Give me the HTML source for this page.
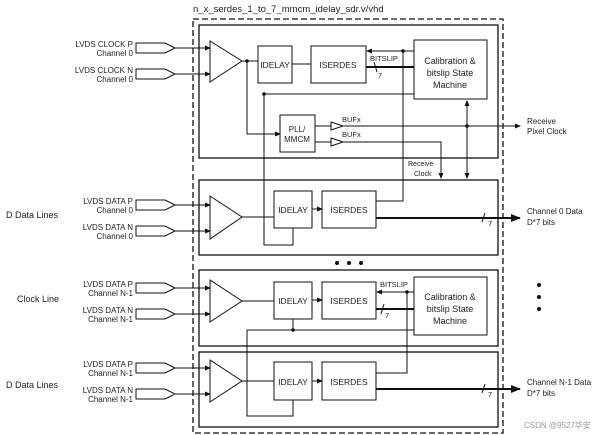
<!DOCTYPE html>
<html><head><meta charset="utf-8"><style>body{margin:0;background:#fff}svg{display:block}text{font-family:"Liberation Sans",Arial,sans-serif;fill:#222}</style></head><body>
<svg width="600" height="435" viewBox="0 0 600 435" xmlns="http://www.w3.org/2000/svg">
<defs>
<marker id="a" markerWidth="6" markerHeight="6" refX="5" refY="3" orient="auto" markerUnits="userSpaceOnUse"><path d="M0,0.5 L6,3 L0,5.5z" fill="#111"/></marker>
<marker id="b" markerWidth="10" markerHeight="8" refX="9" refY="4" orient="auto" markerUnits="userSpaceOnUse"><path d="M0,0 L10,4 L0,8z" fill="#111"/></marker>
</defs>
<g stroke="#111" fill="none" stroke-width="1">
<text x="193" y="12" font-size="9.5" stroke="none">n_x_serdes_1_to_7_mmcm_idelay_sdr.v/vhd</text>
<rect x="193" y="19" width="310" height="414" stroke-dasharray="6,3" stroke-width="1.3"/>
<rect x="199" y="25" width="299" height="133" stroke-width="1.3"/>
<rect x="199" y="180" width="299" height="75" stroke-width="1.3"/>
<rect x="199" y="270" width="299" height="76" stroke-width="1.3"/>
<rect x="199" y="352" width="299" height="75" stroke-width="1.3"/>

<!-- pads -->
<path d="M136,43h29l10,5l-10,5h-29z M136,69h29l10,5l-10,5h-29z M136,200h29l10,5l-10,5h-29z M136,226h29l10,5l-10,5h-29z M136,283h29l10,5l-10,5h-29z M136,309h29l10,5l-10,5h-29z M136,363h29l10,5l-10,5h-29z M136,389h29l10,5l-10,5h-29z"/>
<g marker-end="url(#a)">
<line x1="175" y1="48" x2="210" y2="48"/><line x1="175" y1="74" x2="210" y2="74"/>
<line x1="175" y1="205" x2="210" y2="205"/><line x1="175" y1="231" x2="210" y2="231"/>
<line x1="175" y1="288" x2="210" y2="288"/><line x1="175" y1="314" x2="210" y2="314"/>
<line x1="175" y1="368" x2="210" y2="368"/><line x1="175" y1="394" x2="210" y2="394"/>
</g>
<!-- triangles -->
<path d="M210,41L242,61L210,82z M210,196L242,217L210,239z M210,280L242,301L210,322z M210,360L242,381L210,402z"/>
<!-- block1 -->
<rect x="258" y="46" width="34" height="37"/>
<rect x="311" y="46" width="55" height="37"/>
<rect x="414" y="40" width="73" height="59"/>
<rect x="280" y="115" width="35" height="37"/>
<path d="M331,122l12,4l-12,4z M331,138l12,4l-12,4z"/>
<line x1="242" y1="61" x2="258" y2="61"/>
<line x1="292" y1="64" x2="311" y2="64"/>
<line x1="366" y1="67" x2="414" y2="67" stroke-width="2"/>
<line x1="377" y1="72" x2="374" y2="62"/>
<line x1="414" y1="51" x2="367" y2="51" marker-end="url(#a)"/>
<path d="M247,61V134H280" marker-end="url(#a)"/>
<line x1="264" y1="94" x2="414" y2="94"/>
<path d="M264,94V245H293V228"/>
<path d="M403,51V201H376"/>
<line x1="315" y1="126" x2="331" y2="126"/>
<line x1="315" y1="142" x2="331" y2="142"/>
<line x1="343" y1="126" x2="520" y2="126" marker-end="url(#a)"/>
<path d="M343,142H441V178" marker-end="url(#a)"/>
<line x1="467" y1="126" x2="467" y2="101" marker-end="url(#a)"/>
<line x1="467" y1="126" x2="467" y2="178" marker-end="url(#a)"/>
<!-- block2 -->
<rect x="274" y="191" width="38" height="37"/>
<rect x="322" y="191" width="54" height="37"/>
<line x1="242" y1="217" x2="274" y2="217"/>
<line x1="312" y1="209" x2="322" y2="209" marker-end="url(#a)"/>
<line x1="376" y1="218" x2="520" y2="218" stroke-width="2" marker-end="url(#b)"/>
<line x1="482" y1="222" x2="485" y2="213"/>
<!-- block3 -->
<rect x="274" y="282" width="38" height="37"/>
<rect x="322" y="282" width="54" height="37"/>
<rect x="414" y="277" width="73" height="58"/>
<line x1="242" y1="301" x2="274" y2="301"/>
<line x1="312" y1="300" x2="322" y2="300" marker-end="url(#a)"/>
<line x1="414" y1="292" x2="377" y2="292" marker-end="url(#a)"/>
<line x1="376" y1="309" x2="414" y2="309" stroke-width="2"/>
<line x1="381" y1="314" x2="384" y2="304"/>
<line x1="293" y1="319" x2="293" y2="330"/>
<line x1="247" y1="330" x2="414" y2="330"/>
<path d="M407,292V373H376"/>
<!-- block4 -->
<rect x="274" y="362" width="38" height="38"/>
<rect x="322" y="362" width="54" height="38"/>
<line x1="242" y1="381" x2="274" y2="381"/>
<line x1="312" y1="381" x2="322" y2="381" marker-end="url(#a)"/>
<path d="M247,330V416H293V400"/>
<line x1="376" y1="389" x2="520" y2="389" stroke-width="2" marker-end="url(#b)"/>
<line x1="482" y1="393" x2="485" y2="384"/>
</g>
<g fill="#111">
<circle cx="247" cy="61" r="1.8"/><circle cx="264" cy="94" r="1.8"/><circle cx="403" cy="51" r="1.8"/><circle cx="467" cy="126" r="1.8"/>
<circle cx="407" cy="292" r="1.8"/><circle cx="293" cy="330" r="1.8"/>
<circle cx="337" cy="263" r="2"/><circle cx="349" cy="263" r="2"/><circle cx="361" cy="263" r="2"/>
<circle cx="539" cy="285" r="2"/><circle cx="539" cy="297" r="2"/><circle cx="539" cy="309" r="2"/>
</g>
<g font-size="8.5" text-anchor="middle">
<text x="275" y="68">IDELAY</text><text x="338" y="68">ISERDES</text>
<text x="293" y="213">IDELAY</text><text x="349" y="213">ISERDES</text>
<text x="293" y="304">IDELAY</text><text x="349" y="304">ISERDES</text>
<text x="293" y="385">IDELAY</text><text x="349" y="385">ISERDES</text>
<text x="450" y="64" font-size="9">Calibration &amp;</text><text x="450" y="76" font-size="9">bitslip State</text><text x="450" y="88" font-size="9">Machine</text>
<text x="450" y="300" font-size="9">Calibration &amp;</text><text x="450" y="312" font-size="9">bitslip State</text><text x="450" y="324" font-size="9">Machine</text>
<text x="297" y="132" font-size="8">PLL/</text><text x="297" y="142" font-size="8">MMCM</text>
</g>
<g font-size="7.5">
<text x="370" y="61">BITSLIP</text><text x="378" y="78">7</text>
<text x="380" y="287">BITSLIP</text><text x="385" y="318">7</text>
<text x="488" y="226">7</text><text x="488" y="397">7</text>
<text x="342" y="122">BUFx</text><text x="342" y="137">BUFx</text>
<text x="408" y="166" font-size="7">Receive</text><text x="414" y="176" font-size="7">Clock</text>
</g>
<g font-size="8" text-anchor="end">
<text x="133" y="47">LVDS CLOCK P</text><text x="133" y="56">Channel 0</text>
<text x="133" y="73">LVDS CLOCK N</text><text x="133" y="82">Channel 0</text>
<text x="133" y="204">LVDS DATA P</text><text x="133" y="213">Channel 0</text>
<text x="133" y="230">LVDS DATA N</text><text x="133" y="239">Channel 0</text>
<text x="133" y="287">LVDS DATA P</text><text x="133" y="296">Channel N-1</text>
<text x="133" y="313">LVDS DATA N</text><text x="133" y="322">Channel N-1</text>
<text x="133" y="367">LVDS DATA P</text><text x="133" y="376">Channel N-1</text>
<text x="133" y="393">LVDS DATA N</text><text x="133" y="402">Channel N-1</text>
</g>
<g font-size="9">
<text x="6" y="218">D Data Lines</text><text x="17" y="302">Clock Line</text><text x="6" y="388">D Data Lines</text>
</g>
<g font-size="8">
<text x="527" y="124">Receive</text><text x="527" y="134">Pixel Clock</text>
<text x="527" y="214">Channel 0 Data</text><text x="527" y="225">D*7 bits</text>
<text x="527" y="385">Channel N-1 Data</text><text x="527" y="396">D*7 bits</text>
<text x="524" y="428" fill="#999" style="fill:#999">CSDN @9527华安</text>
</g>
</svg>
</body></html>
